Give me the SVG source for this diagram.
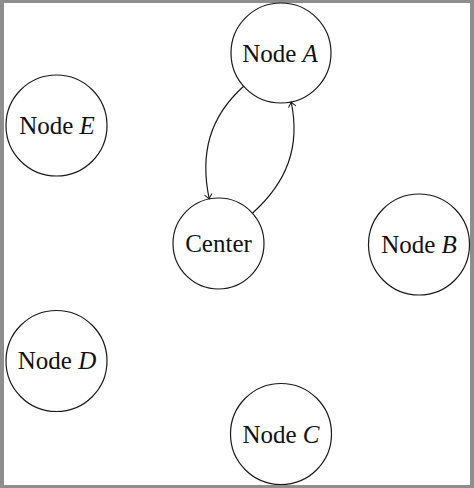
<svg xmlns="http://www.w3.org/2000/svg" width="474" height="488" viewBox="0 0 474 488">
<style>
.n{fill:none;stroke:#1a1a1a;stroke-width:1.2}
.t{font-family:"Liberation Serif",serif;font-size:25px;fill:#111;text-anchor:middle}
.i{font-style:italic}
.e{fill:none;stroke:#1a1a1a;stroke-width:1.2}
</style>
<defs>
<marker id="arr" markerUnits="userSpaceOnUse" markerWidth="12" markerHeight="12" refX="0" refY="0" viewBox="-6 -6 12 12" orient="auto" overflow="visible">
<path d="M-4.5,-3.6 Q-1.6,-0.9 0,0 Q-1.6,0.9 -4.5,3.6" fill="none" stroke="#1a1a1a" stroke-width="1" stroke-linecap="round"/>
</marker>
</defs>
<rect x="0" y="0" width="474" height="488" fill="#8e8e8e"/>
<rect x="4" y="3" width="466" height="482" fill="#fff"/>
<g id="edges">
<path class="e" d="M243.7,86.3 C209.3,117.1 199.8,153.8 209.2,199" marker-end="url(#arr)"/>
<path class="e" d="M252.4,213.2 C286.7,182.5 300.6,147.1 291.2,102" marker-end="url(#arr)"/>
</g>
<g id="nodeA"><circle class="n" cx="281" cy="53" r="50"/><text class="t" x="280" y="62">Node <tspan class="i">A</tspan></text></g>
<g id="nodeB"><circle class="n" cx="419" cy="244.5" r="50.5"/><text class="t" x="419" y="253">Node <tspan class="i">B</tspan></text></g>
<g id="nodeC"><circle class="n" cx="281" cy="434" r="50.5"/><text class="t" x="281" y="443">Node <tspan class="i">C</tspan></text></g>
<g id="nodeD"><circle class="n" cx="56.5" cy="361" r="50.5"/><text class="t" x="57" y="369">Node <tspan class="i">D</tspan></text></g>
<g id="nodeE"><circle class="n" cx="56.5" cy="125.5" r="50.5"/><text class="t" x="57" y="134">Node <tspan class="i">E</tspan></text></g>
<g id="center"><circle class="n" cx="218.5" cy="243.5" r="45.5"/><text class="t" x="218.5" y="252">Center</text></g>
</svg>
